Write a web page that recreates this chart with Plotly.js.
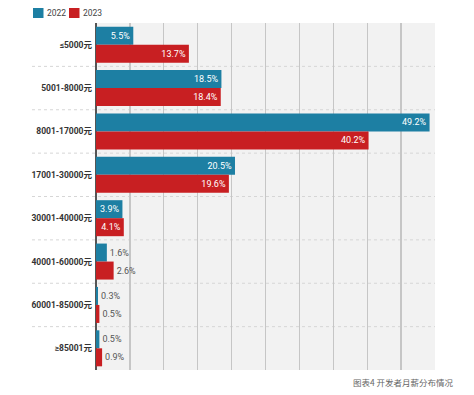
<!DOCTYPE html>
<html>
<head>
<meta charset="utf-8">
<script src="https://cdn.plot.ly/plotly-3.0.1.min.js"></script>
<style>html,body{margin:0;padding:0;background:#fff;}#chart{width:474px;height:395px;}</style>
</head>
<body>
<div id="chart"></div>
<script>
const categories = ["≤5000元", "5001-8000元", "8001-17000元", "17001-30000元", "30001-40000元", "40001-60000元", "60001-85000元", "≥85001元"];
const values2022 = [5.5, 18.5, 49.2, 20.5, 3.9, 1.6, 0.3, 0.5];
const values2023 = [13.7, 18.4, 40.2, 19.6, 4.1, 2.6, 0.5, 0.9];
const seriesNames = ["2022", "2023"];
const seriesColors = ["#1d7fa3", "#c81f22"];
const caption = "图表4 开发者月薪分布情况";

const FONT = "Roboto, 'Noto Sans CJK SC', sans-serif";
function pos(v){ return v.map(x => x >= 3.5 ? "inside" : "outside"); }
function txt(v){ return v.map(x => x.toFixed(1) + "%"); }

const mk = (vals, name, color) => ({
  type: "bar", orientation: "h", y: categories, x: vals, name: name,
  marker: {color: color},
  text: txt(vals), textposition: pos(vals), insidetextanchor: "end",
  constraintext: "none", cliponaxis: false,
  insidetextfont: {color: "#ffffff", size: 9, family: FONT},
  outsidetextfont: {color: "#555555", size: 9, family: FONT},
  hoverinfo: "none", showlegend: false
});

const data = [mk(values2022, seriesNames[0], seriesColors[0]), mk(values2023, seriesNames[1], seriesColors[1])];

// plot area in pixels: left 96, right 435, top 23, bottom 370
const L = 96, R = 435, T = 23, B = 370;
const px = x => (x - L) / (R - L);
const py = y => (B - y) / (B - T);

const shapes = [];
for (let i = 0; i < categories.length - 1; i++) {
  shapes.push({type: "line", xref: "paper", yref: "y", x0: px(32), x1: 1, y0: i + 0.5, y1: i + 0.5,
    line: {color: "#d6d6d6", width: 1, dash: "dot"}, layer: "below"});
}
// legend
const legendItems = [{x: 33, tx: 44.5}, {x: 69, tx: 80.5}];
const annotations = [];
legendItems.forEach((it, k) => {
  shapes.push({type: "rect", xref: "paper", yref: "paper", x0: px(it.x), x1: px(it.x + 10.5), y0: py(18), y1: py(8),
    fillcolor: seriesColors[k], line: {width: 0}});
  annotations.push({xref: "paper", yref: "paper", x: px(it.tx), y: py(13), xanchor: "left", yanchor: "middle",
    text: seriesNames[k], showarrow: false, font: {size: 8.5, color: "#444", family: FONT}});
});
annotations.push({xref: "paper", yref: "paper", x: px(456), y: py(382), xanchor: "right", yanchor: "middle",
  text: caption, showarrow: false, font: {size: 8.5, color: "#666", family: "'Noto Sans CJK SC', sans-serif"}});

const layout = {
  width: 474, height: 395,
  margin: {l: L, r: 474 - R, t: T, b: 395 - B},
  paper_bgcolor: "#ffffff", plot_bgcolor: "#f2f2f2",
  barmode: "group", bargap: 0.17, bargroupgap: 0,
  font: {family: FONT, size: 10, color: "#333"},
  showlegend: false,
  xaxis: {range: [0, 50], dtick: 5, showticklabels: false, showgrid: true,
    gridcolor: "#c6c6c6", gridwidth: 1.3, zeroline: true, zerolinecolor: "#555", zerolinewidth: 1.5,
    fixedrange: true},
  yaxis: {type: "category", autorange: "reversed", showgrid: false, zeroline: false,
    ticks: "", ticklen: 0, tickfont: {size: 8.5, color: "#333", family: FONT, weight: "bold"},
    ticklabelstandoff: 3, fixedrange: true},
  shapes: shapes,
  annotations: annotations
};

Plotly.newPlot("chart", data, layout, {displayModeBar: false, staticPlot: true});
</script>
</body>
</html>
